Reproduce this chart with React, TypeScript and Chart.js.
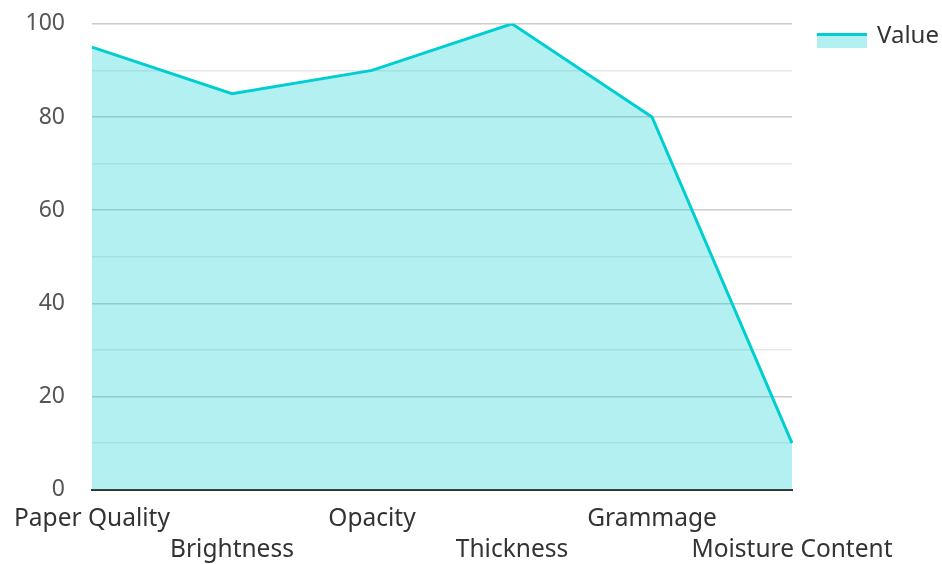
import React, { useEffect, useRef } from "react";
import { Chart, registerables } from "chart.js";

Chart.register(...registerables);

const categories = ["Paper Quality", "Brightness", "Opacity", "Thickness", "Grammage", "Moisture Content"];
const values = [95, 85, 90, 100, 80, 10];
const seriesName = "Value";
const yTickStep = 10;
const yLabelStep = 20;

const LINE = "#00CED1";
const FILL = "rgba(0,206,209,0.3)";
const FONT = "'Noto Sans', sans-serif";
const SHIFT = 17;

const legendPlugin = {
  id: "customLegend",
  afterDraw(chart: any) {
    const ctx = chart.ctx;
    const x = chart.chartArea.right + 25;
    const top = 33 + SHIFT;
    ctx.save();
    ctx.fillStyle = FILL;
    ctx.fillRect(x, top, 50, 15);
    ctx.fillStyle = LINE;
    ctx.fillRect(x, top, 50, 3);
    ctx.fillStyle = "#333";
    ctx.font = `24px ${FONT}`;
    ctx.textBaseline = "middle";
    ctx.textAlign = "left";
    ctx.fillText(seriesName, x + 60, 36 + SHIFT);
    ctx.restore();
  },
};

export default function App() {
  const ref = useRef<HTMLCanvasElement>(null);
  useEffect(() => {
    if (!ref.current) return;
    const labels = categories.map((c, i) => (i % 2 === 1 ? ["", c] : [c]));
    const chart = new Chart(ref.current, {
      type: "line",
      data: {
        labels,
        datasets: [
          {
            label: seriesName,
            data: values,
            borderColor: LINE,
            backgroundColor: FILL,
            borderWidth: 3,
            fill: "origin",
            pointRadius: 0,
            pointHoverRadius: 0,
            tension: 0,
          },
        ],
      },
      options: {
        animation: false,
        responsive: true,
        maintainAspectRatio: false,
        layout: { padding: { left: -6, top: 0, right: 150, bottom: -16 } },
        plugins: {
          tooltip: { enabled: false },
          legend: { display: false },
        },
        scales: {
          x: {
            offset: false,
            grid: { display: false, drawTicks: false },
            border: { display: true, color: "#333", width: 2 },
            ticks: {
              autoSkip: false,
              maxRotation: 0,
              minRotation: 0,
              padding: 14,
              color: "#333",
              font: { family: FONT, size: 24.5, lineHeight: 1.27 },
            },
          },
          y: {
            min: 0,
            max: 100,
            grid: {
              drawTicks: false,
              color: (ctx: any) => (ctx.tick && ctx.tick.value % yLabelStep === 0 ? "#cccccc" : "#e8e8e8"),
              lineWidth: 1.5,
            },
            border: { display: false },
            ticks: {
              stepSize: yTickStep,
              padding: 27,
              color: "#555",
              font: { family: FONT, size: 23 },
              callback: (v: any) => (Number(v) % yLabelStep === 0 ? String(v) : ""),
            },
          },
        },
      },
      plugins: [legendPlugin],
    });
    return () => chart.destroy();
  }, []);
  return (
    <div style={{ position: "absolute", left: 0, top: -SHIFT, width: 942, height: 564 + SHIFT, background: "#fff" }}>
      <canvas ref={ref} />
    </div>
  );
}
